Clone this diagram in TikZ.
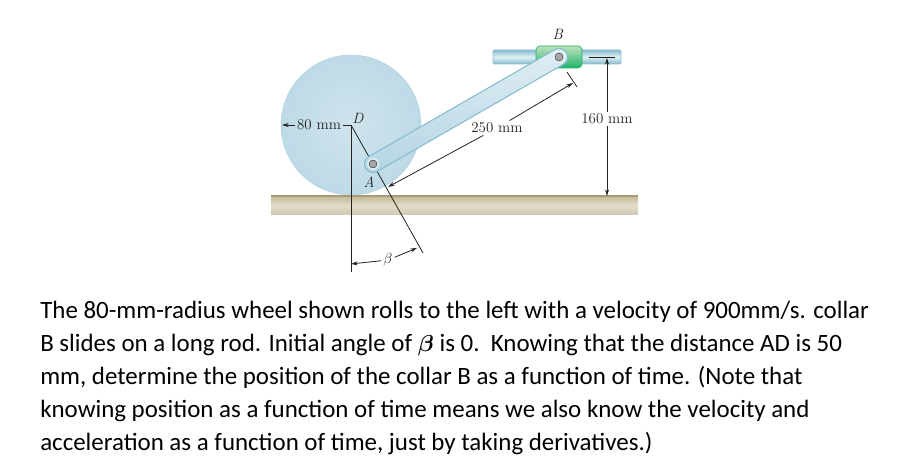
\documentclass[tikz,border=0pt]{standalone}
\usepackage{fontspec}
\newfontfamily\problemfont{Carlito}
\usetikzlibrary{arrows.meta}
\definecolor{wheelin}{HTML}{CFE4ED}
\definecolor{wheelout}{HTML}{BDDAE6}
\definecolor{edgeblue}{HTML}{86BCCF}
\definecolor{barlight}{HTML}{E0EEF4}
\definecolor{barmid}{HTML}{B4D4E3}
\definecolor{groundtop}{HTML}{A89A76}
\definecolor{groundupper}{HTML}{C4B998}
\definecolor{groundmid}{HTML}{E2DCC9}
\definecolor{groundlow}{HTML}{CFC8B2}
\definecolor{collarlight}{HTML}{BDE3BE}
\definecolor{collardark}{HTML}{1FB36B}
\definecolor{inkgrey}{HTML}{222222}
\tikzset{
  dimline/.style={draw=inkgrey, line width=0.6pt},
  dimarrow/.style={dimline, -{Stealth[length=5pt,width=3pt]}},
  partlabel/.style={font=\fontsize{11.2}{12}\selectfont, text=inkgrey, inner sep=1.5pt},
  pinhalo/.style={fill=barlight},
  pinhead/.style={fill=gray!70, draw=inkgrey, line width=0.3pt},
}
\begin{document}
\begin{tikzpicture}[x=0.75pt, y=0.75pt]
    \useasboundingbox (0,0) rectangle (905,470);
    \coordinate (D) at (351,345);
    \coordinate (A) at (373,306);
    \coordinate (B) at (559,413);
    \coordinate (footD) at (351,198);
    \coordinate (footA) at (423,217);
    \coordinate (edgeL) at (282,345);
    \coordinate (rodmark) at (589,413);
    \coordinate (rodmarkend) at (615,413);
    \coordinate (rodtop) at (607,412);
    \coordinate (groundtop) at (607,274);
    \coordinate (wheeltouch) at (388,283);
    \coordinate (collarend) at (573,387);
    \coordinate (tickA) at (567,398);
    \coordinate (tickB) at (577,383);
    \coordinate (betaL) at (351,206);
    \coordinate (betaR) at (417,222);

    \shade [top color=groundupper, bottom color=groundlow, middle color=groundmid] (271,255) rectangle (638,274);
    \fill [groundtop] (271,273) rectangle (638,274.5);
    \shade [inner color=wheelin, outer color=wheelout, draw=edgeblue!70, line width=0.3pt] (D) circle (70);

    \draw [dimline] (D) -- (footD);
    \draw [dimline] (D) -- (footA);

    \shade [top color=edgeblue, bottom color=edgeblue, middle color=barlight, draw=edgeblue, line width=0.5pt, rounded corners=1pt] (493,406) rectangle (621,420);
    \shade [top color=collarlight, bottom color=collardark, draw=collardark, line width=0.5pt, rounded corners=3pt] (536,402) rectangle (582,424);

    \begin{scope}[shift={(A)}, rotate=29.9]
        \shade [top color=barlight, bottom color=barmid, draw=edgeblue, line width=0.8pt] (0,-8.5) -- (214.6,-8.5) arc (-90:90:8.5) -- (0,8.5) arc (90:270:8.5) -- cycle;
    \end{scope}
    \fill [pinhalo] (A) circle (6);
    \fill [pinhalo] (B) circle (6);
    \fill [pinhead] (A) circle (4);
    \fill [pinhead] (B) circle (4);

    \node [partlabel] (labD) at (358,352) {\textit{D}};
    \node [partlabel] (labA) at (369,288) {\textit{A}};
    \node [partlabel] (labB) at (558,436) {\textit{B}};
    \node [partlabel] (lab80) at (319,345) {80 mm};
    \node [partlabel] (lab250) at (497,342) {250 mm};
    \node [partlabel] (lab160) at (607,351) {160 mm};
    \node [partlabel] (labbeta) at (388,210) {$\beta$};

    \draw [dimarrow] (lab80) -- (edgeL);
    \draw [dimline] (lab80) -- (D);
    \draw [dimarrow] (lab250) -- (wheeltouch);
    \draw [dimarrow] (lab250) -- (collarend);
    \draw [dimline] (tickA) -- (tickB);
    \draw [dimline] (rodmark) -- (rodmarkend);
    \draw [dimarrow] (lab160) -- (rodtop);
    \draw [dimarrow] (lab160) -- (groundtop);
    \draw [dimarrow] (labbeta) -- (betaL);
    \draw [dimarrow] (labbeta) -- (betaR);

    \node [anchor=north west, inner sep=0pt, align=left, font=\problemfont\fontsize{18.7}{24.75}\selectfont] (problem) at (40,169) {The 80-mm-radius wheel shown rolls to the left with a velocity of 900mm/s. collar\\
    B slides on a long rod. Initial angle of {\boldmath$\beta$} is 0.\ \ Knowing that the distance AD is 50\\
    mm, determine the position of the collar B as a function of time. (Note that\\
    knowing position as a function of time means we also know the velocity and\\
    acceleration as a function of time, just by taking derivatives.)};
\end{tikzpicture}
\end{document}
